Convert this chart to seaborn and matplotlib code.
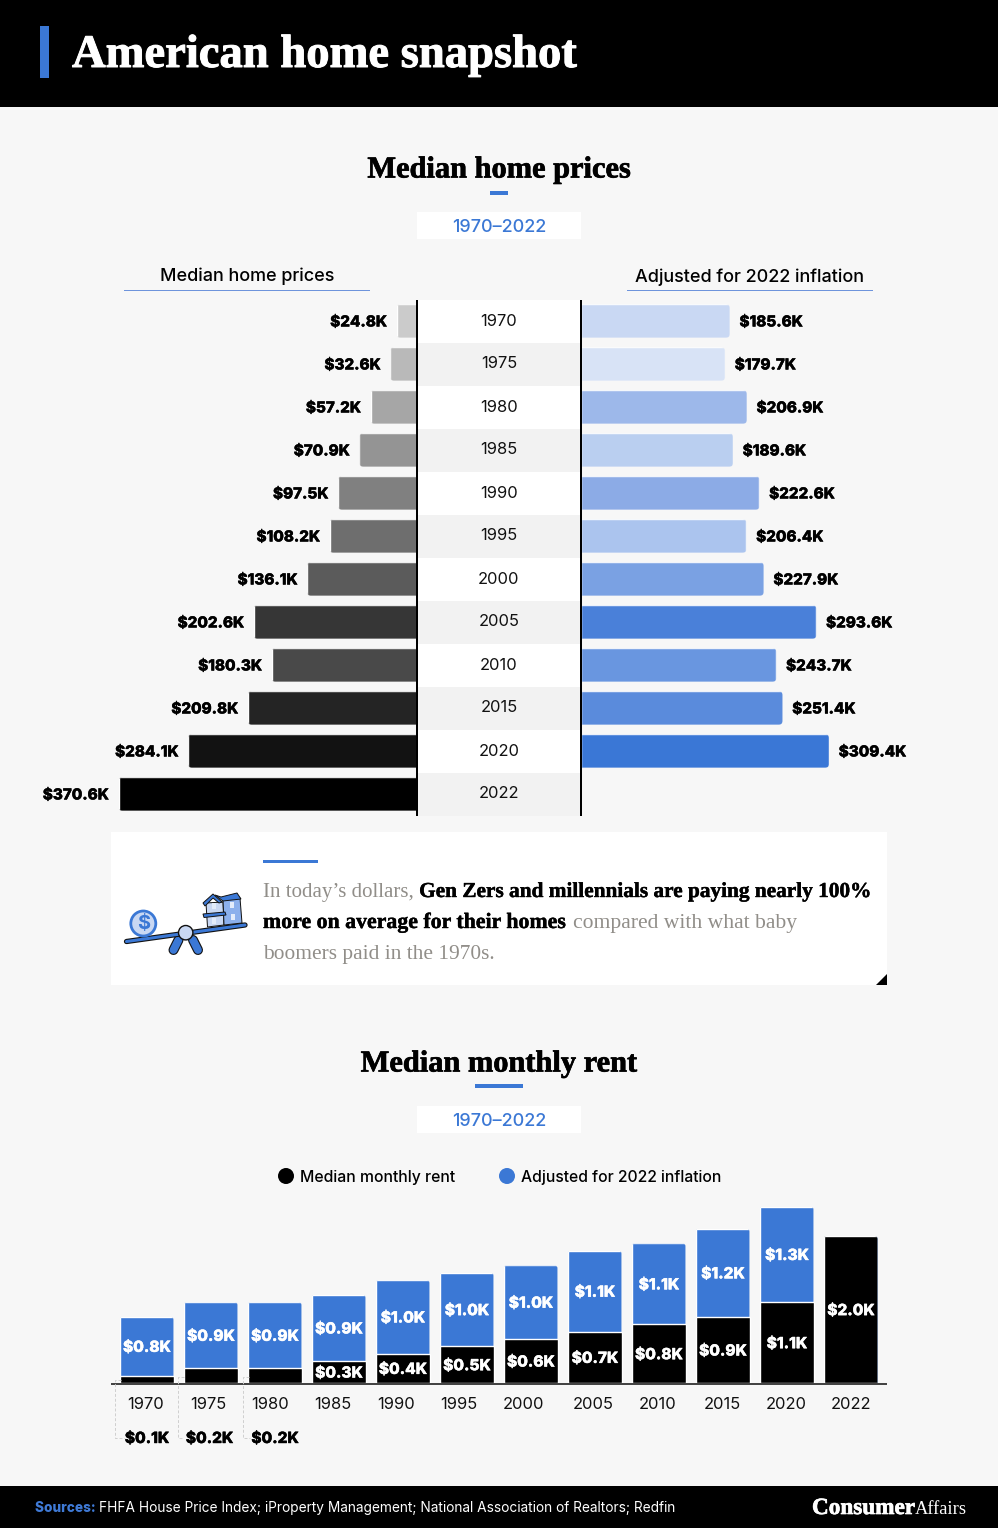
import numpy as np
import pandas as pd
import matplotlib
matplotlib.use("Agg")
import matplotlib.pyplot as plt
import matplotlib.patheffects as pe
import seaborn as sns
from matplotlib.patches import Rectangle, FancyBboxPatch, Circle, Polygon

years = ["1970", "1975", "1980", "1985", "1990", "1995", "2000", "2005", "2010", "2015", "2020", "2022"]
home_prices = [24.8, 32.6, 57.2, 70.9, 97.5, 108.2, 136.1, 202.6, 180.3, 209.8, 284.1, 370.6]
home_prices_adj = [185.6, 179.7, 206.9, 189.6, 222.6, 206.4, 227.9, 293.6, 243.7, 251.4, 309.4]
grey_ramp = ["#cbcbcb", "#b9b9b9", "#a6a6a6", "#949494", "#808080", "#6e6e6e",
             "#5b5b5b", "#363636", "#494949", "#242424", "#121212", "#000000"]
blue_ramp = ["#c9d8f3", "#d8e3f6", "#9db8ea", "#bacff0", "#8cabe6", "#abc4ee",
             "#7aa1e3", "#4a80d9", "#6996e0", "#5a8bdc", "#3a77d6"]
rent = [0.1, 0.2, 0.2, 0.3, 0.4, 0.5, 0.6, 0.7, 0.8, 0.9, 1.1, 2.0]
rent_adj = [0.8, 0.9, 0.9, 0.9, 1.0, 1.0, 1.0, 1.1, 1.1, 1.2, 1.3, 0.0]

W, H = 998, 1528
BLUE = "#3b78d5"
PAGE = "#f7f7f7"
SANS = "Inter"
SERIF = "Liberation Serif"
SANS_LIST = [SANS, "DejaVu Sans"]
HEAVY = 800

sns.set_theme(style="white")
plt.rcParams["font.family"] = SANS_LIST


def pt(px):
    return px * 0.72


# Slight outline thickens glyphs beyond the heaviest installed weight
def thicken(width, color):
    return [pe.withStroke(linewidth=width, foreground=color)]


fig = plt.figure(figsize=(W / 100, H / 100), dpi=100, facecolor=PAGE)

# Full-page canvas measured in pixels, y growing downward
page = fig.add_axes([0, 0, 1, 1], zorder=0)
page.set_xlim(0, W)
page.set_ylim(H, 0)
page.axis("off")
overlay = fig.add_axes([0, 0, 1, 1], zorder=5)
overlay.set_xlim(0, W)
overlay.set_ylim(H, 0)
overlay.axis("off")
overlay.patch.set_alpha(0)


def rect(x0, y0, x1, y1, color, ax=page, **kw):
    ax.add_patch(Rectangle((x0, y0), x1 - x0, y1 - y0, facecolor=color, edgecolor="none", **kw))


def label(x, y, s, px, color="black", ha="center", weight="normal", family=None, ax=overlay, **kw):
    dy = 0 if family else 1.5
    return ax.text(x, y + dy, s, fontsize=pt(px), color=color, ha=ha, va="center", weight=weight,
                   family=family or SANS_LIST, **kw)


def run_text(x, y, parts, family):
    """Write differently styled pieces one after another on a single line."""
    rdr = fig.canvas.get_renderer()
    for s, color, weight, px, stroke in parts:
        t = overlay.text(x, y, s, fontsize=pt(px), color=color, weight=weight, family=family,
                         ha="left", va="baseline")
        if stroke:
            t.set_path_effects(thicken(stroke, color))
        x = t.get_window_extent(rdr).x1
    return x


def axes_px(x0, y0, x1, y1, **kw):
    ax = fig.add_axes([x0 / W, 1 - y1 / H, (x1 - x0) / W, (y1 - y0) / H], zorder=2, **kw)
    ax.patch.set_alpha(0)
    return ax


def round_bars(ax, bars, radius, extend):
    """Clip each bar to a rounded box; extend says which sides keep square corners."""
    rdr = fig.canvas.get_renderer()
    for bar in bars:
        bb = bar.get_window_extent(rdr)
        x0, x1 = bb.x0, bb.x1
        y0, y1 = H - bb.y1, H - bb.y0
        if extend == "left":
            x0 -= 20
        elif extend == "right":
            x1 += 20
        elif extend == "down":
            y1 += 20
        clip = FancyBboxPatch((x0 + radius, y0 + radius), x1 - x0 - 2 * radius, y1 - y0 - 2 * radius,
                              boxstyle=f"round,pad={radius},rounding_size={radius}",
                              transform=page.transData, facecolor="none", edgecolor="none")
        bar.set_clip_path(clip)


# Header and footer bands
rect(0, 0, W, 107, "black")
rect(40, 26, 49, 78, BLUE)
label(72, 56, "American home snapshot", 46.6, color="white", ha="left", weight="bold", family=SERIF,
      path_effects=thicken(0.7, "white"))
rect(0, 1486, W, H, "black")
run_text(35, 1512, [("Sources: ", "#3f7ad6", HEAVY, 13.6, 0),
                    ("FHFA House Price Index; iProperty Management; National Association of Realtors; Redfin",
                     "white", "normal", 13.7, 0)], SANS_LIST)
run_text(812, 1514, [("Consumer", "white", "bold", 23.2, 0.5), ("Affairs", "white", "normal", 18.5, 0)], SERIF)


def section_head(title, y_title, rule_x0, rule_x1, y_rule, y_box):
    label(499, y_title, title, 30.4, ha="center", weight="bold", family=SERIF,
          path_effects=thicken(0.5, "black"))
    rect(rule_x0, y_rule - 2, rule_x1, y_rule + 2, BLUE)
    rect(417, y_box, 581, y_box + 27, "white")
    label(499, y_box + 14, "1970–2022", 18, color=BLUE, weight=500)


section_head("Median home prices", 170, 490, 508, 193, 212)
section_head("Median monthly rent", 1064, 475, 523, 1086, 1106)

# Year column between the two price bar charts
label(247.5, 275, "Median home prices", 18, weight=500)
label(750, 276, "Adjusted for 2022 inflation", 18, weight=500)
rect(124, 289.5, 370, 290.5, "#6e94dc")
rect(627, 289.5, 873, 290.5, "#6e94dc")

ROW0, ROW = 300, 43
for i, yr in enumerate(years):
    y0 = ROW0 + i * ROW
    rect(417, y0, 581, y0 + ROW, "white" if i % 2 == 0 else "#f2f2f2")
    label(499, y0 + 19.5, yr, 16.5, color="#111111")
rect(416, 300, 418.2, 815.5, "black", ax=overlay)
rect(579.8, 300, 582, 815.5, "black", ax=overlay)

# Price bars, left side runs outward from the year column
band_y0, band_y1 = ROW0 - 0.5, ROW0 - 0.5 + ROW * len(years)
PX_PER_K = 0.804
left_ax = axes_px(60, band_y0, 416.5, band_y1)
df_left = pd.DataFrame({"year": years, "price": home_prices})
sns.barplot(df_left, y="year", x="price", hue="year", palette=grey_ramp, order=years, legend=False,
            width=33.5 / 43, saturation=1, ax=left_ax)
left_ax.set_xlim(356.5 / PX_PER_K, 0)
left_ax.set_ylim(len(years) - 0.5, -0.5)
left_ax.axis("off")

right_ax = axes_px(581, band_y0, 960, band_y1)
df_right = pd.DataFrame({"year": years[:-1], "price": home_prices_adj})
sns.barplot(df_right, y="year", x="price", hue="year", palette=blue_ramp, order=years, legend=False,
            width=33.5 / 43, saturation=1, ax=right_ax)
right_ax.set_xlim(0, 379 / 0.8016)
right_ax.set_ylim(len(years) - 0.5, -0.5)
right_ax.axis("off")

for ax, vals, side in [(left_ax, home_prices, "right"), (right_ax, home_prices_adj, "left")]:
    for container, v in zip(ax.containers, vals):
        for t in ax.bar_label(container, labels=[f"${v:.1f}K"], padding=7, fontsize=pt(15.2), weight=HEAVY,
                              color="black", family=SANS_LIST):
            t.xyann = (t.xyann[0], -0.7)
            t.set_path_effects(thicken(0.3, "black"))
    bars = [b for c in ax.containers for b in c]
    round_bars(ax, bars, 4, side)

# Callout panel with the seesaw illustration
rect(111, 832, 887, 985, "white")
page.add_patch(Polygon([(876, 985), (887, 985), (887, 974)], facecolor="black", edgecolor="none", zorder=3))
rect(263, 860, 318, 863, BLUE)
GREY_TXT = "#918e89"
run_text(263, 897, [("In today’s dollars, ", GREY_TXT, "normal", 20.9, 0),
                    ("Gen Zers and millennials are paying nearly 100%", "black", "bold", 21.3, 0.3)], SERIF)
run_text(263, 928, [("more on average for their homes ", "black", "bold", 21.85, 0.3),
                    ("compared with what baby", GREY_TXT, "normal", 21.7, 0)], SERIF)
run_text(263, 959, [("boomers paid in the 1970s.", GREY_TXT, "normal", 21.4, 0)], SERIF)

OUT = "#111111"
for leg_x in [(178.5, 173.5), (193, 198)]:
    page.plot(leg_x, (940, 950), color=OUT, lw=7.2, solid_capstyle="round", zorder=3)
    page.plot(leg_x, (940, 950), color=BLUE, lw=5.6, solid_capstyle="round", zorder=3)
page.plot((126.5, 245), (941.5, 925), color=OUT, lw=3.8, solid_capstyle="round", zorder=3)
page.plot((126.5, 245), (941.5, 925), color=BLUE, lw=2.2, solid_capstyle="round", zorder=3)
page.add_patch(Circle((185.7, 932.7), 7.2, facecolor="#c9d8f3", edgecolor=OUT, lw=1.0, zorder=4))
page.add_patch(Circle((143.3, 923.5), 12.5, facecolor="#c9d8f3", edgecolor=BLUE, lw=2.0, zorder=4))
page.text(143.3, 924, "$", fontsize=pt(20), weight="bold", color=BLUE, ha="center", va="center", zorder=5)
# House: wing, main block, roofs and windows
page.add_patch(Polygon([(206, 903), (223, 902), (224, 925), (207.5, 927)], facecolor="#c9d8f3", edgecolor=OUT, lw=0.7, zorder=4))
page.add_patch(Polygon([(223, 899), (240, 898), (242, 923), (224, 925)], facecolor="#8cb0ec", edgecolor=OUT, lw=0.7, zorder=4))
page.add_patch(Polygon([(203, 903), (213, 894), (222, 902), (219, 903), (213, 898), (205, 906)], facecolor=BLUE, edgecolor=OUT, lw=0.7, zorder=5))
page.add_patch(Polygon([(215, 895), (221, 897), (237, 893), (241, 899), (223, 901)], facecolor=BLUE, edgecolor=OUT, lw=0.7, zorder=5))
page.add_patch(Polygon([(203, 914), (225, 912), (226, 915), (204, 917.5)], facecolor=BLUE, edgecolor=OUT, lw=0.7, zorder=5))
for wx, wy in [(214, 906), (232, 905), (214, 921), (233, 917)]:
    rect(wx - 2, wy - 3, wx + 2, wy + 3, "#e3ecfa", zorder=6)

# Stacked rent columns sharing one baseline
RENT_PX_PER_K = 73.5
col_ax = axes_px(114.5, 1383 - 200, 882.5, 1383)
df_rent = pd.DataFrame({"year": years, "rent": rent, "adjusted": rent_adj})
df_rent["stack"] = df_rent["rent"] + df_rent["adjusted"]
sns.barplot(df_rent, x="year", y="stack", color=BLUE, order=years, width=54 / 64, saturation=1, ax=col_ax)
n_blue = len(col_ax.patches)
sns.barplot(df_rent, x="year", y="rent", color="black", order=years, width=54 / 64, saturation=1, ax=col_ax)
col_ax.set_ylim(0, 200 / RENT_PX_PER_K)
col_ax.set_xlim(-0.5, 11.5)
col_ax.axis("off")
round_bars(col_ax, list(col_ax.patches[:n_blue]), 3, "down")
round_bars(col_ax, [col_ax.patches[n_blue + 11]], 3, "down")


def bar_text(i, value, s):
    col_ax.annotate(s, (i, value), xytext=(0.3, -0.8), textcoords="offset points", color="white",
                    fontsize=pt(15.4), weight=HEAVY, ha="center", va="center", zorder=5,
                    family=SANS_LIST, path_effects=thicken(0.3, "white"))


for i, (r, a) in enumerate(zip(rent, rent_adj)):
    if a > 0:
        bar_text(i, r + a / 2, f"${a:.1f}K")
    if r >= 0.3:
        bar_text(i, r / 2, f"${r:.1f}K")

rect(111, 1382.5, 887, 1384.5, "#444444", ax=overlay)

# Legend row
page.add_patch(Circle((286, 1176), 8, facecolor="black", edgecolor="none"))
label(300, 1176, "Median monthly rent", 15.75, ha="left", weight=500)
page.add_patch(Circle((507, 1176), 8, facecolor=BLUE, edgecolor="none"))
label(521, 1176, "Adjusted for 2022 inflation", 15.7, ha="left", weight=500)

# Year captions under the columns
caption_x = [146, 208, 270, 333, 396, 459, 524, 593, 658, 722, 786, 851]
for x, yr in zip(caption_x, years):
    label(x, 1403, yr, 16.5, color="#111111")

# The smallest rent values sit below the axis with dashed leaders
for x_leader, x_stub, x_end, y_top, x_txt, r in [(115, 121, 125, 1380, 147, rent[0]),
                                                 (178.5, 184, 183, 1377, 209.5, rent[1]),
                                                 (243, 249, 250, 1377, 275, rent[2])]:
    overlay.plot([x_stub, x_leader, x_leader, x_end], [y_top, y_top, 1438, 1438], color="#cfcfcf",
                 lw=0.7, ls=(0, (3, 2)))
    label(x_txt, 1437, f"${r:.1f}K", 15.4, weight=HEAVY, path_effects=thicken(0.3, "black"))

for ax in (page, overlay):
    ax.set_xlim(0, W)
    ax.set_ylim(H, 0)

fig.savefig("out.png", dpi=100, facecolor=PAGE)
